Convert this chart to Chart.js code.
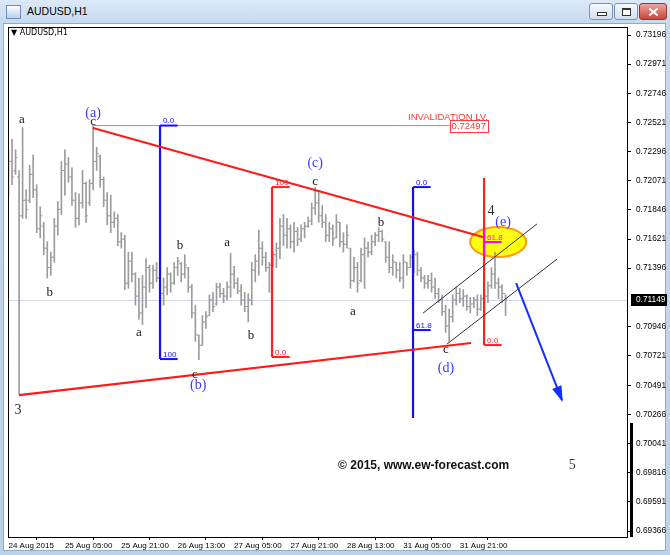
<!DOCTYPE html>
<html>
<head>
<meta charset="utf-8">
<script src="https://cdn.jsdelivr.net/npm/chart.js@4.4.0/dist/chart.umd.min.js"></script>
<style>
  body { margin: 0; width: 670px; height: 555px; overflow: hidden; }
  #win { position: absolute; left: 0; top: 0; width: 670px; height: 555px;
         background: linear-gradient(#dce9f7, #c6daef 22px, #bcd2ea); }
  #icon { position: absolute; left: 6px; top: 5px; width: 13px; height: 12px;
          border: 1px solid #6d8fb8; background: linear-gradient(#ffffff, #b9d0ea); }
  #wtitle { position: absolute; left: 27px; top: 5px; font: 10.5px "Liberation Sans", sans-serif; color: #000; }
  .btn { position: absolute; top: 3px; height: 15px; border: 1px solid #7d93b0; border-radius: 3px;
         background: linear-gradient(#f4f8fc, #d3e0ef); }
  #bmin { left: 589px; width: 22px; }
  #bmax { left: 614px; width: 22px; }
  #bclose { left: 639px; width: 26px; border-color: #8a3b35; background: linear-gradient(#e9a69e, #c8463a); }
  #bmin i { position: absolute; left: 7px; top: 8px; width: 8px; height: 2px; border: 1px solid #333; background: #fff; }
  #bmax i { position: absolute; left: 7px; top: 4px; width: 7px; height: 5px; border: 1px solid #333; border-top-width: 2px; background: #fff; }
  #bclose i, #bclose b { position: absolute; left: 8px; top: 7px; width: 11px; height: 2px; background: #fff; }
  #bclose i { transform: rotate(40deg); }
  #bclose b { transform: rotate(-40deg); }
  #panel { position: absolute; left: 3px; top: 23px; width: 663px; height: 528px; background: #fff;
           border: 1px solid #98a9c0; box-sizing: border-box; }
  #chart { position: absolute; left: 0; top: 0; }
  #sym { position: absolute; left: 11px; top: 28px; font: 8px "DejaVu Sans", sans-serif; color: #000; }
  #shiftbar { position: absolute; left: 630px; top: 423px; width: 3px; height: 114px; background: #000; }
</style>
</head>
<body>
<div id="win">
  <div id="icon"></div>
  <div id="wtitle">AUDUSD,H1</div>
  <div class="btn" id="bmin"><i></i></div>
  <div class="btn" id="bmax"><i></i></div>
  <div class="btn" id="bclose"><i></i><b></b></div>
  <div id="panel"></div>
  <canvas id="chart" width="670" height="555"></canvas>
  <div id="sym">▼ AUDUSD,H1</div>
  <div id="shiftbar"></div>
</div>
<script>
// -----------------------------
// Données : barres H1 (ouverture, haut, bas, clôture)
// -----------------------------
const timeLabels = ["24 Aug 2015", "25 Aug 05:00", "25 Aug 21:00", "26 Aug 13:00", "27 Aug 05:00",
                    "27 Aug 21:00", "28 Aug 13:00", "31 Aug 05:00", "31 Aug 21:00"];
const timeTickBars = [0, 16, 32, 48, 64, 80, 96, 112, 128];

const priceTicks = [0.73196, 0.72971, 0.72746, 0.72521, 0.72296, 0.72071, 0.71846, 0.71621, 0.71396,
                    0.70946, 0.70721, 0.70491, 0.70266, 0.70041, 0.69816, 0.69591, 0.69366];

const opens = [
  .7200,.7222,.7215,.7210,.7180,.7192,.7192,.7212,.7200,.7170,
  .7172,.7155,.7140,.7148,.7172,.7185,.7215,.7220,.7210,.7192,
  .7178,.7190,.7205,.7190,.7205,.7222,.7226,.7208,.7192,.7180,
  .7175,.7178,.7160,.7162,.7128,.7145,.7135,.7118,.7105,.7125,
  .7140,.7128,.7138,.7132,.7120,.7125,.7135,.7128,.7140,.7143,
  .7135,.7140,.7125,.7105,.7088,.7080,.7098,.7103,.7115,.7112,
  .7125,.7120,.7118,.7125,.7135,.7128,.7122,.7115,.7110,.7115,
  .7138,.7145,.7155,.7148,.7140,.7142,.7150,.7155,.7172,.7165,
  .7170,.7160,.7168,.7162,.7170,.7172,.7176,.7186,.7190,.7180,
  .7175,.7165,.7170,.7163,.7175,.7160,.7158,.7155,.7130,.7140,
  .7130,.7150,.7155,.7152,.7160,.7165,.7168,.7160,.7148,.7140,
  .7144,.7138,.7132,.7144,.7140,.7148,.7150,.7138,.7132,.7128,
  .7130,.7125,.7120,.7115,.7106,.7095,.7102,.7115,.7120,.7116,
  .7118,.7110,.7112,.7115,.7108,.7116,.7118,.7126,.7135,.7128,
  .7125,.7120
];
const highs = [
  .7231,.7239,.7231,.7215,.7248,.7200,.7219,.7227,.7204,.7187,
  .7175,.7160,.7152,.7178,.7191,.7222,.7231,.7225,.7217,.7198,
  .7197,.7215,.7206,.7208,.72497,.7233,.7227,.7210,.7198,.7196,
  .7183,.7181,.7167,.7165,.7152,.7152,.7136,.7132,.7134,.7147,
  .7142,.7142,.7144,.7150,.7132,.7140,.7136,.7144,.7148,.7144,
  .7150,.7140,.7127,.7111,.7088,.7103,.7106,.7119,.7121,.7128,
  .7128,.7124,.7129,.7151,.7141,.7132,.7127,.7121,.7120,.7144,
  .7150,.7169,.7160,.7152,.7144,.7152,.7159,.7178,.7181,.7178,
  .7173,.7175,.7171,.7173,.7175,.7179,.7190,.7202,.7198,.7188,
  .7181,.7175,.7173,.7181,.7175,.7167,.7173,.7155,.7148,.7144,
  .7155,.7163,.7160,.7165,.7167,.7171,.7169,.7160,.7160,.7150,
  .7144,.7144,.7150,.7144,.7150,.7154,.7152,.7140,.7134,.7134,
  .7136,.7132,.7124,.7119,.7111,.7108,.7119,.7125,.7124,.7123,
  .7119,.7117,.7117,.7119,.7119,.7120,.7129,.7140,.7152,.7132,
  .7127,.7119
];
const lows = [
  .7196,.7204,.7212,.7042,.7178,.7178,.7190,.7194,.7167,.7163,
  .7150,.7132,.7134,.7144,.7165,.7181,.7196,.7206,.7188,.7171,
  .7173,.7186,.7175,.7188,.7200,.7215,.7202,.7187,.7173,.7167,
  .7171,.7157,.7155,.7123,.7124,.7129,.7111,.7100,.7096,.7109,
  .7121,.7124,.7129,.7114,.7111,.7119,.7121,.7127,.7134,.7129,
  .7132,.7121,.7101,.7083,.7069,.7080,.7093,.7103,.7106,.7111,
  .7117,.7113,.7115,.7117,.7124,.7120,.7111,.7106,.7098,.7111,
  .7129,.7134,.7142,.7137,.7121,.7141,.7140,.7147,.7157,.7155,
  .7155,.7152,.7157,.7160,.7163,.7171,.7173,.7181,.7175,.7171,
  .7160,.7160,.7157,.7163,.7156,.7152,.7155,.7124,.7129,.7121,
  .7129,.7124,.7148,.7150,.7157,.7160,.7160,.7144,.7136,.7134,
  .7132,.7129,.7124,.7134,.7140,.7136,.7134,.7129,.7124,.7124,
  .7121,.7116,.7113,.7103,.7090,.7083,.7098,.7111,.7113,.7110,
  .7107,.7105,.7109,.7103,.7107,.7105,.7113,.7124,.7124,.7116,
  .7113,.7103
];
const closes = [
  .7222,.7210,.7225,.7180,.7192,.7185,.7212,.7200,.7170,.7180,
  .7155,.7140,.7148,.7172,.7185,.7215,.7220,.7210,.7192,.7178,
  .7190,.7205,.7180,.7205,.7222,.7228,.7208,.7192,.7180,.7175,
  .7178,.7160,.7162,.7128,.7145,.7135,.7118,.7105,.7125,.7140,
  .7128,.7138,.7132,.7120,.7125,.7135,.7128,.7140,.7145,.7135,
  .7142,.7125,.7105,.7088,.7080,.7098,.7102,.7115,.7110,.7125,
  .7120,.7118,.7125,.7135,.7128,.7122,.7115,.7110,.7115,.7138,
  .7145,.7155,.7148,.7140,.7142,.7150,.7155,.7172,.7165,.7170,
  .7160,.7168,.7162,.7170,.7172,.7176,.7186,.7190,.7180,.7175,
  .7165,.7170,.7162,.7175,.7160,.7158,.7165,.7130,.7140,.7128,
  .7150,.7155,.7152,.7160,.7165,.7168,.7162,.7148,.7140,.7145,
  .7138,.7132,.7145,.7140,.7148,.7150,.7138,.7132,.7128,.7130,
  .7125,.7120,.7115,.7106,.7095,.7102,.7115,.7120,.7116,.7118,
  .7110,.7112,.7115,.7108,.7116,.7118,.7126,.7135,.7128,.7125,
  .7120,.71149
];

// -----------------------------
// Objets dessinés (barre, prix)
// -----------------------------
const triangleUpper = [[23.97, 0.72478], [134.6, 0.71636]];
const triangleLower = [[2.98, 0.70416], [131.2, 0.70818]];
const invalidationLevel = [[23.97, 0.72497], [136.0, 0.72497]];
const channelUpper = [[117.6, 0.71049], [149.9, 0.71737]];
const channelLower = [[124.4, 0.70810], [155.6, 0.71466]];
const arrowPath = [[144.0, 0.71281], [157.0, 0.70377]];
const ellipseAt = [138.9, 0.71598];

const fibBars = [42.98, 74.75, 114.75, 134.9];
const fibHigh = [0.72497, 0.72022, 0.72022, 0.72092];
const fibLow = [0.70694, 0.70710, 0.70239, 0.70802];
const fibLevels = [
  [[0.72497, "0.0"], [0.70694, "100"]],
  [[0.72022, "100"], [0.70710, "0.0"]],
  [[0.72022, "0.0"], [0.70918, "61.8"]],
  [[0.71598, "61.8"], [0.70802, "0.0"]]
];

const minorLabels = [
  ["a", 3.83, 0.72540], ["b", 11.7, 0.71211], ["c", 24.0, 0.72524], ["a", 37.0, 0.70895],
  ["b", 48.65, 0.71574], ["c", 52.9, 0.70571], ["a", 62.0, 0.71590], ["b", 68.8, 0.70872],
  ["c", 87.0, 0.72061], ["a", 97.7, 0.71057], ["b", 105.7, 0.71744], ["c", 124.1, 0.70771]
];
const intermediateLabels = [
  ["(a)", 24.0, 0.72594], ["(b)", 53.8, 0.70493], ["(c)", 87.0, 0.72208],
  ["(d)", 124.1, 0.70625], ["(e)", 140.3, 0.71752]
];
const primaryLabels = [["3", 2.7, 0.70300], ["4", 136.9, 0.71837], ["5", 159.9, 0.69876]];
const copyrightAt = [93.5, 0.69868];

// -----------------------------
// Construction des jeux de données
// -----------------------------
const pts = arr => arr.map(p => ({ x: p[0], y: p[1] }));

function seg(points, color, width, order) {
  return { type: "line", data: points, borderColor: color, borderWidth: width,
           pointRadius: 0, fill: false, tension: 0, order: order };
}

const BAR_GRAY = "#9c9c9c";
const datasets = [
  { type: "bar", data: highs.map((h, i) => ({ x: i, y: [lows[i], h] })),
    backgroundColor: BAR_GRAY, barThickness: 1, grouped: false, order: 20 },
  { type: "line", showLine: false, data: opens.map((o, i) => ({ x: i - 0.3, y: o })),
    pointStyle: "line", pointRadius: 1, borderColor: BAR_GRAY, borderWidth: 1, order: 19 },
  { type: "line", showLine: false, data: closes.map((c, i) => ({ x: i + 0.3, y: c })),
    pointStyle: "line", pointRadius: 1, borderColor: BAR_GRAY, borderWidth: 1, order: 19 },
  seg(pts(invalidationLevel), "#ff6a6a", 1, 8),
  seg(pts(triangleUpper), "#ff1a1a", 2.2, 3),
  seg(pts(triangleLower), "#ff1a1a", 2.2, 3),
  seg(pts(channelUpper), "#303030", 1, 2),
  seg(pts(channelLower), "#303030", 1, 2),
  seg(pts(arrowPath), "#1030ff", 2, 1)
];

const fibColors = ["#1010ff", "#ff2020", "#1010ff", "#ff2020"];
fibBars.forEach((x, k) => {
  datasets.push(seg([{ x: x, y: fibHigh[k] }, { x: x, y: fibLow[k] }], fibColors[k], 2.2, 4));
  fibLevels[k].forEach(([p, t]) => {
    const c = (k === 3 && t === "61.8") ? "#ff00ff" : fibColors[k];
    datasets.push(seg([{ x: x, y: p }, { x: x + 5, y: p }], c, 2, 4));
  });
});

// -----------------------------
// Plugins de dessin
// -----------------------------
const toPx = (chart, x, y) => [chart.scales.x.getPixelForValue(x), chart.scales.y.getPixelForValue(y)];

function ellipsePath(ctx, chart) {
  const [cx, cy] = toPx(chart, ellipseAt[0], ellipseAt[1]);
  ctx.beginPath();
  ctx.ellipse(cx, cy, 28, 15, 0, 0, Math.PI * 2);
}

const underlay = {
  id: "underlay",
  beforeDatasetsDraw(chart) {
    const ctx = chart.ctx, a = chart.chartArea;
    // ligne du dernier prix
    const y = Math.round(chart.scales.y.getPixelForValue(closes[closes.length - 1])) + 0.5;
    ctx.save();
    ctx.strokeStyle = "#d4d6ee";
    ctx.lineWidth = 1;
    ctx.beginPath(); ctx.moveTo(a.left, y); ctx.lineTo(a.right, y); ctx.stroke();
    // ellipse jaune (e)
    ellipsePath(ctx, chart);
    ctx.fillStyle = "#ffff10";
    ctx.fill();
    ctx.lineWidth = 2;
    ctx.strokeStyle = "#ff9a10";
    ctx.stroke();
    ctx.restore();
  }
};

const overlay = {
  id: "overlay",
  afterDatasetsDraw(chart) {
    const ctx = chart.ctx;
    ctx.save();

    // partie magenta du retracement dans l'ellipse
    ellipsePath(ctx, chart);
    ctx.clip();
    const [fx] = toPx(chart, fibBars[3], 0);
    ctx.strokeStyle = "#ff00ff";
    ctx.lineWidth = 2.2;
    ctx.beginPath(); ctx.moveTo(fx, chart.chartArea.top); ctx.lineTo(fx, chart.chartArea.bottom); ctx.stroke();
    ctx.restore();
    ctx.save();

    // pointe de flèche
    const [x0, y0] = toPx(chart, arrowPath[0][0], arrowPath[0][1]);
    const [x1, y1] = toPx(chart, arrowPath[1][0], arrowPath[1][1]);
    const ang = Math.atan2(y1 - y0, x1 - x0);
    ctx.fillStyle = "#1030ff";
    ctx.beginPath();
    ctx.moveTo(x1 + 2 * Math.cos(ang), y1 + 2 * Math.sin(ang));
    ctx.lineTo(x1 - 14 * Math.cos(ang) + 5 * Math.sin(ang), y1 - 14 * Math.sin(ang) - 5 * Math.cos(ang));
    ctx.lineTo(x1 - 14 * Math.cos(ang) - 5 * Math.sin(ang), y1 - 14 * Math.sin(ang) + 5 * Math.cos(ang));
    ctx.closePath();
    ctx.fill();

    // textes des retracements
    ctx.font = "8px 'Liberation Sans', sans-serif";
    ctx.textAlign = "left";
    ctx.textBaseline = "bottom";
    fibBars.forEach((x, k) => {
      fibLevels[k].forEach(([p, t]) => {
        const [px, py] = toPx(chart, x, p);
        ctx.fillStyle = (k === 3 && t === "61.8") ? "#ff00ff" : fibColors[k];
        ctx.fillText(t, px + 3, py - 0.5);
      });
    });

    // niveau d'invalidation
    const [ix, iy] = toPx(chart, invalidationLevel[1][0], invalidationLevel[1][1]);
    ctx.font = "9.5px 'Liberation Sans', sans-serif";
    ctx.textAlign = "right";
    ctx.textBaseline = "alphabetic";
    ctx.fillStyle = "#ff3a3a";
    ctx.fillText("INVALIDATION LV.", ix, iy - 6);
    ctx.font = "9.5px 'Liberation Sans', sans-serif";
    const lvl = invalidationLevel[1][1].toFixed(5);
    const w = ctx.measureText(lvl).width + 4;
    ctx.fillStyle = "#fff";
    ctx.fillRect(ix - w, iy - 5.5, w, 12);
    ctx.strokeStyle = "#ff3a3a";
    ctx.lineWidth = 1;
    ctx.strokeRect(Math.round(ix - w) + 0.5, Math.round(iy - 5.5) + 0.5, Math.round(w), 12);
    ctx.fillStyle = "#ff3a3a";
    ctx.textAlign = "left";
    ctx.textBaseline = "middle";
    ctx.fillText(lvl, ix - w + 2, iy + 1);

    // étiquettes Elliott
    ctx.textAlign = "center";
    ctx.textBaseline = "middle";
    const drawSet = (set, font, color) => {
      ctx.font = font;
      ctx.fillStyle = color;
      set.forEach(([t, x, p]) => {
        const [px, py] = toPx(chart, x, p);
        ctx.fillText(t, px, py);
      });
    };
    drawSet(minorLabels, "13px 'Liberation Serif', serif", "#1a1a1a");
    drawSet(intermediateLabels, "14px 'Liberation Serif', serif", "#3a3aff");
    drawSet(primaryLabels, "14px 'Liberation Serif', serif", "#303030");

    // copyright
    const [cx, cy] = toPx(chart, copyrightAt[0], copyrightAt[1]);
    ctx.font = "bold 12px 'Liberation Sans', sans-serif";
    ctx.fillStyle = "#111";
    ctx.textAlign = "left";
    ctx.fillText("© 2015, www.ew-forecast.com", cx, cy);
    ctx.restore();
  },
  afterDraw(chart) {
    const ctx = chart.ctx, a = chart.chartArea;
    ctx.save();
    ctx.strokeStyle = "#000";
    ctx.lineWidth = 1;
    ctx.strokeRect(a.left + 0.5, a.top + 0.5, a.right - a.left - 1, a.bottom - a.top);
    // étiquette du dernier prix
    const last = closes[closes.length - 1];
    const y = Math.round(chart.scales.y.getPixelForValue(last));
    ctx.fillStyle = "#000";
    ctx.fillRect(a.right + 3, y - 6, 667 - a.right - 3, 12);
    ctx.fillStyle = "#fff";
    ctx.font = "8.3px 'Liberation Sans', sans-serif";
    ctx.textAlign = "left";
    ctx.textBaseline = "middle";
    ctx.fillText(last.toFixed(5), a.right + 8, y);
    ctx.restore();
  }
};

// -----------------------------
// Graphique
// -----------------------------
new Chart(document.getElementById("chart"), {
  type: "line",
  data: { datasets: datasets },
  options: {
    responsive: false,
    animation: false,
    devicePixelRatio: 1,
    events: [],
    layout: { padding: { left: 8, top: 27, right: 0, bottom: 0 } },
    plugins: { legend: { display: false }, tooltip: { enabled: false } },
    scales: {
      x: {
        type: "linear", min: -0.142, max: 175.73, offset: false,
        afterBuildTicks: s => { s.ticks = timeTickBars.map(v => ({ value: v })); },
        afterFit: s => { s.height = 18; },
        ticks: { autoSkip: false, maxRotation: 0, align: "start", padding: 1, color: "#000",
                 font: { family: "Liberation Sans", size: 8 },
                 callback: (v, i) => timeLabels[i] },
        grid: { drawOnChartArea: false, drawTicks: true, tickLength: 3, color: "#000" },
        border: { display: false }
      },
      y: {
        position: "right", min: 0.69320, max: 0.73258,
        afterBuildTicks: s => { s.ticks = priceTicks.map(v => ({ value: v })); },
        afterFit: s => { s.width = 42; },
        ticks: { autoSkip: false, padding: 5, color: "#000",
                 font: { family: "Liberation Sans", size: 8.3 },
                 callback: v => v.toFixed(5) },
        grid: { drawOnChartArea: false, drawTicks: true, tickLength: 3, color: "#000" },
        border: { display: false }
      }
    }
  },
  plugins: [underlay, overlay]
});
</script>
</body>
</html>
